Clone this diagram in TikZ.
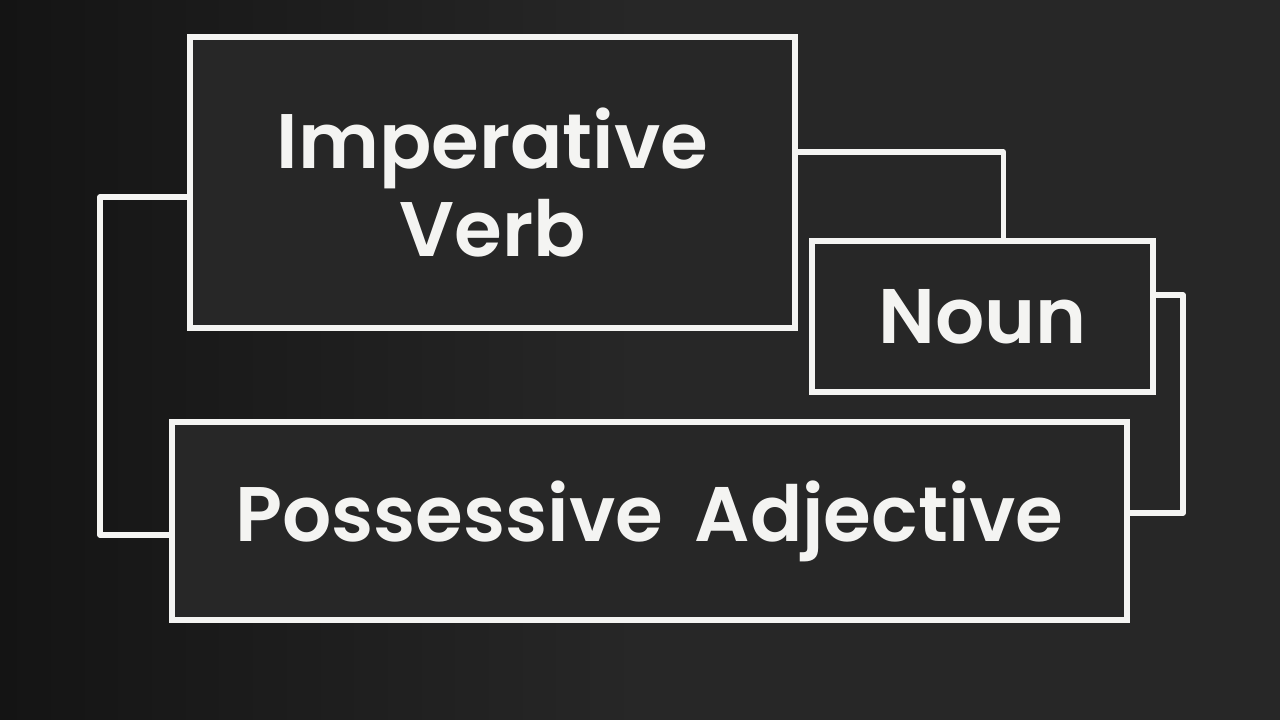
\documentclass[tikz,border=0pt]{standalone}
\usepackage{fontspec}
\setmainfont{Poppins}[UprightFont={* SemiBold}]
\usepackage{tikz}
\usetikzlibrary{positioning, calc}

\definecolor{board}{HTML}{272727}
\definecolor{boarddark}{HTML}{141414}
\definecolor{chalk}{HTML}{F4F4F2}

\begin{document}
\begin{tikzpicture}[
    % Word box style
    wordbox/.style={
        rectangle,
        draw=chalk,
        line width=1.5pt,
        fill=board,
        text=chalk,
        align=center,
        font=\fontsize{22}{25}\selectfont
    },
    % Connector style
    link/.style={
        draw=chalk,
        line width=1.5pt,
        line join=round
    }
]

% === Chalkboard background ===
\useasboundingbox (0,0) rectangle (12.8,-7.2);
\shade[left color=boarddark, right color=board, middle color=board] (0,0) rectangle (12.8,-7.2);

% === Word boxes ===
\node[wordbox, minimum width=6.05cm, minimum height=2.91cm] (verb) at (4.925, -1.825)
      {Imperative\\Verb};
\node[wordbox, minimum width=3.41cm, minimum height=1.51cm] (noun) at (9.825, -3.165)
      {Noun};
\node[wordbox, minimum width=9.55cm, minimum height=1.98cm] (adj) at (6.495, -5.21)
      {Possessive\, Adjective};

% === Connectors ===
\coordinate (verbR) at ([yshift=0.305cm]verb.east);
\coordinate (nounT) at ([xshift=0.21cm]noun.north);
\draw[link] (verbR) -| (nounT);

\coordinate (verbL) at ([yshift=-0.145cm]verb.west);
\coordinate (adjL) at ([yshift=-0.14cm]adj.west);
\draw[link] (verbL) -- (1.00, -1.97) |- (adjL);

\coordinate (nounR) at ([yshift=0.215cm]noun.east);
\coordinate (adjR) at ([yshift=0.08cm]adj.east);
\draw[link] (nounR) -- (11.83, -2.95) |- (adjR);

\end{tikzpicture}
\end{document}
